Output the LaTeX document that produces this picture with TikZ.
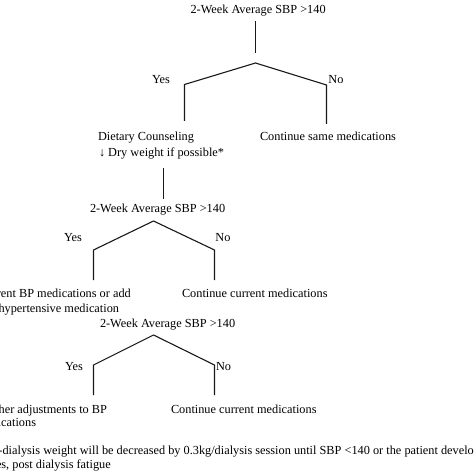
\documentclass[tikz,border=0pt]{standalone}
\usepackage{fontspec}
\setmainfont{Liberation Serif}
\begin{document}
\begin{tikzpicture}[x=1bp,y=-1bp,
  txt/.style={inner sep=0pt,outer sep=0pt,font=\fontsize{12.3bp}{14bp}\selectfont,text=black},
  ln/.style={line width=1.1bp,black!90}]
\useasboundingbox[fill=white] (0,0) rectangle (474,474);
\begin{scope}
\clip (0,0) rectangle (474,474);
% block 1
\node[txt,anchor=base west] (t1) at (190.5,14) {2-Week Average SBP >140};
\coordinate (v1a) at (255.5,21.5);
\coordinate (v1b) at (255.5,53);
\coordinate (a1) at (255.5,63);
\coordinate (l1) at (184.5,84.5);
\coordinate (l1b) at (184.5,121);
\coordinate (r1) at (326.5,85);
\coordinate (r1b) at (326.5,124);
\draw[ln] (v1a) -- (v1b);
\draw[ln] (l1b) -- (l1) -- (a1) -- (r1) -- (r1b);
\node[txt,anchor=base] (y1) at (161,84) {Yes};
\node[txt,anchor=base] (n1) at (336,84) {No};
\node[txt,anchor=base west] (d1) at (98,141) {Dietary Counseling};
\node[txt,anchor=base west] (d2) at (99,157) {↓ Dry weight if possible*};
\node[txt,anchor=base west] (c1) at (260,141) {Continue same medications};
% block 2
\coordinate (v2a) at (163.5,168);
\coordinate (v2b) at (163.5,199);
\draw[ln] (v2a) -- (v2b);
\node[txt,anchor=base west] (t2) at (90,213) {2-Week Average SBP >140};
\coordinate (a2) at (153.5,221);
\coordinate (l2) at (93.5,250);
\coordinate (l2b) at (93.5,280);
\coordinate (r2) at (214.5,250);
\coordinate (r2b) at (214.5,280);
\draw[ln] (l2b) -- (l2) -- (a2) -- (r2) -- (r2b);
\node[txt,anchor=base] (y2) at (73,241) {Yes};
\node[txt,anchor=base] (n2) at (223,241) {No};
\node[txt,anchor=base west] (e1) at (1,297) {\llap{Adjust curr}ent BP medications or add};
\node[txt,anchor=base west] (e2) at (-1.5,312) {\llap{ant}hypertensive medication};
\node[txt,anchor=base west] (c2) at (182,297) {Continue current medications};
% block 3
\node[txt,anchor=base west] (t3) at (100,327) {2-Week Average SBP >140};
\coordinate (a3) at (153.5,335);
\coordinate (l3) at (93.5,365);
\coordinate (l3b) at (93.5,395);
\coordinate (r3) at (214.5,365);
\coordinate (r3b) at (214.5,395);
\draw[ln] (l3b) -- (l3) -- (a3) -- (r3) -- (r3b);
\node[txt,anchor=base] (y3) at (74,370) {Yes};
\node[txt,anchor=base west] (n3) at (216,370) {No};
\node[txt,anchor=base west] (f1) at (-1.3,413) {\llap{Furt}her adjustments to BP};
\node[txt,anchor=base west] (f2) at (1.2,426) {\llap{medi}cations};
\node[txt,anchor=base west] (c3) at (171,413) {Continue current medications};
% footnote
\node[txt,anchor=base west] (p1) at (-1.5,454) {\llap{*Post}-dialysis weight will be decreased by 0.3kg/dialysis session until SBP <140 or the patient develops};
\node[txt,anchor=base west] (p2) at (-4,468) {\llap{episod}es, post dialysis fatigue};
\end{scope}
\end{tikzpicture}
\end{document}
